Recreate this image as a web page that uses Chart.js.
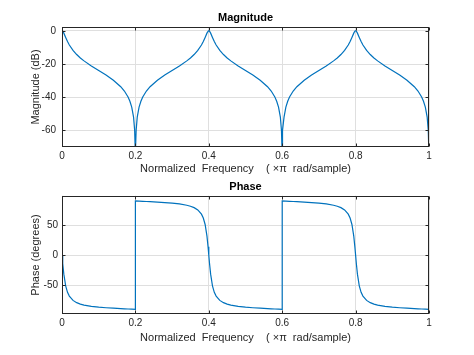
<!DOCTYPE html>
<html><head><meta charset="utf-8">
<script src="https://cdn.jsdelivr.net/npm/chart.js@4.4.0/dist/chart.umd.min.js"></script>
<style>
html,body{margin:0;padding:0;background:#fff;}
canvas{position:absolute;left:0;}
#c1{top:0;width:474px;height:178px;}
#c2{top:178px;width:474px;height:177px;}
</style></head><body>
<canvas id="c1" width="474" height="178"></canvas>
<canvas id="c2" width="474" height="177"></canvas>
<script>
// Normalized frequency (x pi rad/sample) for the magnitude curve
const magFreq = [
  0, 0.002, 0.005, 0.01, 0.015, 0.02, 0.03, 0.04, 0.05, 0.06, 0.08, 0.1, 0.12, 0.14, 0.16, 0.17, 0.18, 0.185, 0.19, 0.195, 0.198, 0.1995, 0.2,
  0.2005, 0.202, 0.205, 0.21, 0.215, 0.22, 0.23, 0.24, 0.26, 0.28, 0.3, 0.32, 0.34, 0.35, 0.36, 0.37, 0.38, 0.385, 0.39, 0.395, 0.398,
  0.4, 0.402, 0.405, 0.41, 0.415, 0.42, 0.43, 0.44, 0.45, 0.46, 0.48, 0.5, 0.52, 0.54, 0.56, 0.57, 0.58, 0.585, 0.59, 0.595, 0.598, 0.5995, 0.6,
  0.6005, 0.602, 0.605, 0.61, 0.615, 0.62, 0.63, 0.64, 0.66, 0.68, 0.7, 0.72, 0.74, 0.75, 0.76, 0.77, 0.78, 0.785, 0.79, 0.795, 0.798,
  0.8, 0.802, 0.805, 0.81, 0.815, 0.82, 0.83, 0.84, 0.85, 0.86, 0.88, 0.9, 0.92, 0.94, 0.96, 0.97, 0.98, 0.985, 0.99, 0.995, 0.998, 0.9995, 1
];
// Magnitude (dB)
const magDb = [
  0, -0.26, -1.40, -4.01, -6.47, -8.55, -11.80, -14.30, -16.35, -18.11, -21.16, -23.92, -26.68, -29.76, -33.67, -36.29, -39.90, -42.44, -45.98, -52.01, -59.98, -72.0, -200,
  -72.0, -59.98, -52.01, -45.98, -42.44, -39.90, -36.29, -33.67, -29.76, -26.68, -23.92, -21.16, -18.11, -16.35, -14.30, -11.80, -8.55, -6.47, -4.01, -1.40, -0.26,
  0, -0.26, -1.40, -4.01, -6.47, -8.55, -11.80, -14.30, -16.35, -18.11, -21.16, -23.92, -26.68, -29.76, -33.67, -36.29, -39.90, -42.44, -45.98, -52.01, -59.98, -72.0, -200,
  -72.0, -59.98, -52.01, -45.98, -42.44, -39.90, -36.29, -33.67, -29.76, -26.68, -23.92, -21.16, -18.11, -16.35, -14.30, -11.80, -8.55, -6.47, -4.01, -1.40, -0.26,
  0, -0.26, -1.40, -4.01, -6.47, -8.55, -11.80, -14.30, -16.35, -18.11, -21.16, -23.92, -26.68, -29.76, -33.67, -36.29, -39.90, -42.44, -45.98, -52.01, -59.98, -72.0, -200
];
// Normalized frequency for the phase curve
const phaseFreq = [
  0, 0.002, 0.005, 0.01, 0.015, 0.02, 0.03, 0.04, 0.05, 0.06, 0.08, 0.1, 0.12, 0.14, 0.16, 0.17, 0.18, 0.19, 0.2,
  0.2, 0.21, 0.22, 0.23, 0.24, 0.26, 0.28, 0.3, 0.32, 0.34, 0.35, 0.36, 0.37, 0.38, 0.385, 0.39, 0.395, 0.398,
  0.4, 0.402, 0.405, 0.41, 0.415, 0.42, 0.43, 0.44, 0.45, 0.46, 0.48, 0.5, 0.52, 0.54, 0.56, 0.57, 0.58, 0.59, 0.6,
  0.6, 0.61, 0.62, 0.63, 0.64, 0.66, 0.68, 0.7, 0.72, 0.74, 0.75, 0.76, 0.77, 0.78, 0.785, 0.79, 0.795, 0.798,
  0.8, 0.802, 0.805, 0.81, 0.815, 0.82, 0.83, 0.84, 0.85, 0.86, 0.88, 0.9, 0.92, 0.94, 0.96, 0.97, 0.98, 0.99, 1
];
// Phase (degrees)
const phaseDeg = [
  0, -13.8, -31.6, -50.9, -61.7, -68.0, -75.1, -78.9, -81.2, -82.9, -85.0, -86.3, -87.3, -88.1, -88.8, -89.1, -89.4, -89.7, -90,
  90, 89.7, 89.4, 89.1, 88.8, 88.1, 87.3, 86.3, 85.0, 82.9, 81.2, 78.9, 75.1, 68.0, 61.7, 50.9, 31.6, 13.8,
  0, -13.8, -31.6, -50.9, -61.7, -68.0, -75.1, -78.9, -81.2, -82.9, -85.0, -86.3, -87.3, -88.1, -88.8, -89.1, -89.4, -89.7, -90,
  90, 89.7, 89.4, 89.1, 88.8, 88.1, 87.3, 86.3, 85.0, 82.9, 81.2, 78.9, 75.1, 68.0, 61.7, 50.9, 31.6, 13.8,
  0, -13.8, -31.6, -50.9, -61.7, -68.0, -75.1, -78.9, -81.2, -82.9, -85.0, -86.3, -87.3, -88.1, -88.8, -89.1, -89.4, -89.7, -90
];
const freqTicks = [0, 0.2, 0.4, 0.6, 0.8, 1];
const magTicks = [-60, -40, -20, 0];
const phaseTicks = [-50, 0, 50];

const FONT = '"Liberation Sans", Arial, Helvetica, sans-serif';
const TXT = '#262626';
const GRID = '#dfdfdf';
const LINE = '#0072BD';
const XTITLE = 'Normalized  Frequency    ( \u00d7\u03c0  rad/sample)';

const boxPlugin = {
  id: 'box',
  afterDatasetsDraw(chart, args, opts) {
    const {ctx, chartArea: a} = chart;
    const L = Math.round(a.left) + 0.5, T = Math.round(a.top) + 0.5;
    const R = Math.round(a.right) - 0.5, B = Math.round(a.bottom) - 0.5;
    ctx.save();
    ctx.strokeStyle = TXT;
    ctx.lineWidth = 1;
    ctx.beginPath();
    const xs = chart.scales.x, ys = chart.scales.y;
    const tl = 3;
    opts.xt.forEach(v => {
      const px = Math.round(xs.getPixelForValue(v)) + 0.5;
      ctx.moveTo(px, B); ctx.lineTo(px, B - tl);
      ctx.moveTo(px, T); ctx.lineTo(px, T + tl);
    });
    opts.yt.forEach(v => {
      const py = Math.round(ys.getPixelForValue(v)) + 0.5;
      ctx.moveTo(L, py); ctx.lineTo(L + tl, py);
      ctx.moveTo(R, py); ctx.lineTo(R - tl, py);
    });
    ctx.stroke();
    ctx.strokeRect(L, T, R - L, B - T);
    ctx.restore();
  }
};

function makeChart(id, cfg) {
  const pts = cfg.xs.map((x, i) => ({x: x, y: cfg.ys[i]}));
  return new Chart(document.getElementById(id), {
    type: 'scatter',
    data: { datasets: [{
      data: pts, showLine: true, borderColor: LINE, borderWidth: 1.2,
      pointRadius: 0, pointHoverRadius: 0, tension: 0, fill: false
    }]},
    options: {
      responsive: false, animation: false, devicePixelRatio: 1,
      events: [],
      layout: { padding: { left: 0, right: 45, top: 0, bottom: 0 } },
      plugins: {
        legend: { display: false },
        tooltip: { enabled: false },
        title: {
          display: true, text: cfg.title, fullSize: false, color: '#000',
          font: { family: FONT, size: 11, weight: 'bold', lineHeight: 1.2 },
          padding: cfg.titlePad
        },
        box: { xt: freqTicks, yt: cfg.yTicks }
      },
      scales: {
        x: {
          type: 'linear', min: 0, max: 1,
          afterBuildTicks: s => { s.ticks = freqTicks.map(v => ({value: v})); },
          afterFit: s => { s.height = cfg.xH; },
          ticks: { color: TXT, font: { family: FONT, size: 10 }, padding: 3, maxRotation: 0, autoSkip: false,
                   callback: v => String(Math.round(v * 10) / 10) },
          grid: { color: GRID, drawTicks: false, lineWidth: 1 },
          border: { display: false },
          title: { display: true, text: XTITLE, color: TXT, font: { family: FONT, size: 11 },
                   padding: { top: 0, bottom: cfg.xTitlePad } }
        },
        y: {
          type: 'linear', min: cfg.yMin, max: cfg.yMax,
          afterBuildTicks: s => { s.ticks = cfg.yTicks.map(v => ({value: v})); },
          afterFit: s => { s.width = 62; },
          ticks: { color: TXT, font: { family: FONT, size: 10 }, padding: cfg.yPad,
                   callback: v => String(v) },
          grid: { color: GRID, drawTicks: false, lineWidth: 1 },
          border: { display: false },
          title: { display: true, text: cfg.yTitle, color: TXT, font: { family: FONT, size: 11 },
                   padding: { top: 29, bottom: 0 } }
        }
      }
    },
    plugins: [boxPlugin]
  });
}

makeChart('c1', {
  xs: magFreq, ys: magDb, title: 'Magnitude', yTitle: 'Magnitude (dB)',
  yMin: -70, yMax: 2.3, yTicks: magTicks, yPad: 6,
  titlePad: { top: 11.4, bottom: 2.4 }, xH: 31, xTitlePad: 2.4
});
makeChart('c2', {
  xs: phaseFreq, ys: phaseDeg, title: 'Phase', yTitle: 'Phase (degrees)',
  yMin: -98.2, yMax: 98.7, yTicks: phaseTicks, yPad: 4,
  titlePad: { top: 2.4, bottom: 2.1 }, xH: 40.7, xTitlePad: 10.4
});
</script>
</body></html>
